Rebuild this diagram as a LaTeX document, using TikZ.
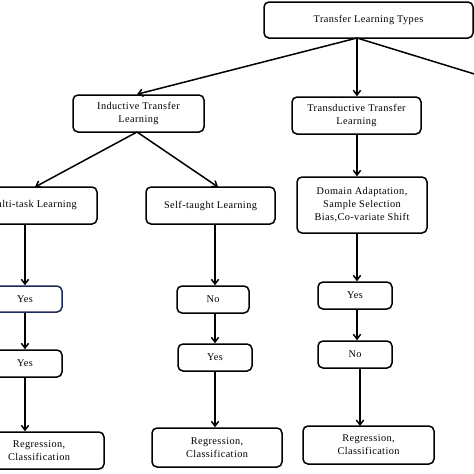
\documentclass[tikz,border=0pt]{standalone}
\usepackage{fontspec}
\setmainfont{Liberation Serif}[LetterSpace=4]
\usetikzlibrary{arrows.meta}
\begin{document}
\begin{tikzpicture}[x=1pt,y=-1pt,
  box/.style={draw=black,line width=1.5pt,rounded corners=5pt,fill=white,align=center,
    font=\fontsize{10.3}{13}\selectfont,inner sep=0pt},
  link/.style={line width=1.5pt,-{Straight Barb[angle=75:6pt]}},
  plain/.style={line width=1.5pt}]
\useasboundingbox (0,0) rectangle (474,474);
\clip (0,0) rectangle (474,474);
\node[box,minimum width=209pt,minimum height=36pt] (top) at (368.5,20) {Transfer Learning Types};
\node[box,minimum width=131pt,minimum height=37pt] (ind) at (138.5,113.5) {Inductive Transfer\\Learning};
\node[box,minimum width=129pt,minimum height=37pt] (trd) at (356.5,115.5) {Transductive Transfer\\Learning};
\node[box,minimum width=130pt,minimum height=37pt] (mt) at (32,205.5) {Multi-task Learning};
\node[box,minimum width=129pt,minimum height=37pt] (st) at (210.5,205.5) {Self-taught Learning};
\node[box,minimum width=130pt,minimum height=56pt] (da) at (362,205) {Domain Adaptation,\\Sample Selection\\Bias,Co-variate Shift};
\node[box,draw={rgb,255:red,30;green,40;blue,90},minimum width=74pt,minimum height=26pt] (y1) at (25,299) {Yes};
\node[box,minimum width=72pt,minimum height=27pt] (no1) at (213,299.5) {No};
\node[box,minimum width=74pt,minimum height=27pt] (y3) at (355,295.5) {Yes};
\node[box,minimum width=74pt,minimum height=27pt] (y2) at (25,363.5) {Yes};
\node[box,minimum width=74pt,minimum height=27pt] (y4) at (215,357.5) {Yes};
\node[box,minimum width=74pt,minimum height=27pt] (no3) at (355,354.5) {No};
\node[box,minimum width=130pt,minimum height=37pt] (r1) at (39,450.5) {Regression,\\Classification};
\node[box,minimum width=130pt,minimum height=39pt] (r2) at (217,447.5) {Regression,\\Classification};
\node[box,minimum width=131pt,minimum height=38pt] (r3) at (368.5,445) {Regression,\\Classification};
\coordinate (fork) at (357,38);
\coordinate (off) at (520,88);
\coordinate (indb) at (137,132);
\draw[link] (fork) -- (ind.north -| indb);
\draw[link] (fork) -- (fork |- trd.north);
\draw[plain] (fork) -- (off);
\draw[link] (indb) -- (35,187) coordinate (mtin);
\draw[link] (indb) -- (218,187) coordinate (stin);
\draw[link] (fork |- trd.south) -- (fork |- da.north);
\draw[link] (y1.north |- mt.south) -- (y1.north);
\draw[link] (y1.south) -- (y2.north);
\draw[link] (y2.south) -- (y2.south |- r1.north);
\draw[link] (y4.north |- st.south) -- (y4.north |- no1.north);
\draw[link] (y4.north |- no1.south) -- (y4.north);
\draw[link] (y4.south) -- (y4.south |- r2.north);
\draw[link] (fork |- da.south) -- (fork |- y3.north);
\draw[link] (fork |- y3.south) -- (fork |- no3.north);
\draw[link] (360,368) -- (360,426);
\end{tikzpicture}
\end{document}
